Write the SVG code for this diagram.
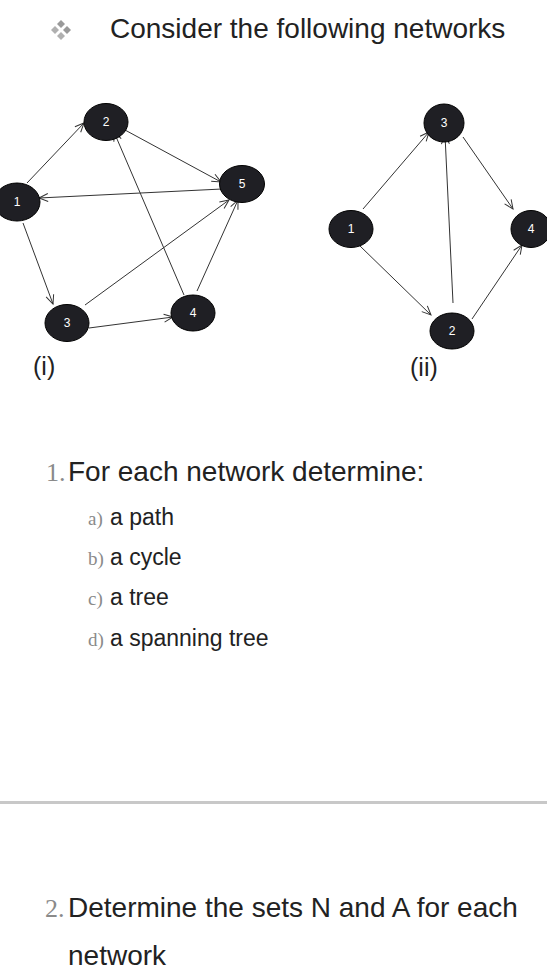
<svg xmlns="http://www.w3.org/2000/svg" width="547" height="970" viewBox="0 0 547 970">
<defs>
<style>
.node{fill:#1f1f24;stroke:#000;stroke-width:1}
.nl{font-family:"Liberation Sans",Arial,sans-serif;font-size:12px;fill:#fff;text-anchor:middle}
.edge{stroke:#333;stroke-width:1;fill:none;marker-end:url(#arr)}
.txt{font-family:"Liberation Sans",Arial,sans-serif;fill:#222}
.num{font-family:"Liberation Serif","Times New Roman",serif;fill:#8a8a8a}
</style>
<marker id="arr" markerUnits="userSpaceOnUse" markerWidth="12" markerHeight="12" viewBox="0 0 12 12" refX="10" refY="6" orient="auto">
<path d="M1,2 L10,6 L1,10" fill="none" stroke="#333" stroke-width="1"/>
</marker>
</defs>
<rect width="547" height="970" fill="#fff"/>

<g id="title">
<g fill="#9a9a9a">
<path d="M61,20 l4,4 l-4,4 l-4,-4z"/>
<path d="M55,26 l4,4 l-4,4 l-4,-4z" fill="#b0b0b0"/>
<path d="M67,26 l4,4 l-4,4 l-4,-4z"/>
<path d="M61,32 l4,4 l-4,4 l-4,-4z" fill="#b0b0b0"/>
</g>
<text class="txt" x="110" y="38" font-size="28">Consider the following networks</text>
</g>

<g id="connectors">
<line class="edge" x1="27" y1="183" x2="84" y2="123"/>
<line class="edge" x1="125" y1="130" x2="221" y2="182"/>
<line class="edge" x1="222" y1="189" x2="39" y2="198"/>
<line class="edge" x1="23" y1="223" x2="53" y2="304"/>
<line class="edge" x1="85" y1="305" x2="229" y2="200"/>
<line class="edge" x1="89" y1="328" x2="173" y2="317"/>
<line class="edge" x1="184" y1="295" x2="114" y2="132"/>
<line class="edge" x1="197" y1="291" x2="238" y2="200"/>

<line class="edge" x1="363" y1="209" x2="429" y2="132"/>
<line class="edge" x1="463" y1="137" x2="513" y2="209"/>
<line class="edge" x1="359" y1="245" x2="431" y2="315"/>
<line class="edge" x1="453" y1="303" x2="445" y2="135"/>
<line class="edge" x1="472" y1="319" x2="522" y2="245"/>
</g>

<g id="g1-n1"><ellipse class="node" cx="17" cy="202" rx="23" ry="19"/><text class="nl" x="17" y="206">1</text></g>
<g id="g1-n2"><ellipse class="node" cx="106" cy="122" rx="22" ry="18.5"/><text class="nl" x="106" y="126">2</text></g>
<g id="g1-n3"><ellipse class="node" cx="67" cy="323" rx="22" ry="18.5"/><text class="nl" x="67" y="327">3</text></g>
<g id="g1-n4"><ellipse class="node" cx="193" cy="313" rx="22" ry="18"/><text class="nl" x="193" y="317">4</text></g>
<g id="g1-n5"><ellipse class="node" cx="242" cy="184" rx="22.5" ry="18.5"/><text class="nl" x="242" y="188">5</text></g>
<text class="txt" x="33" y="375" font-size="25" fill="#222">(i)</text>

<g id="g2-n1"><ellipse class="node" cx="351" cy="229" rx="22" ry="18.5"/><text class="nl" x="351" y="233">1</text></g>
<g id="g2-n2"><ellipse class="node" cx="452" cy="331" rx="22" ry="18"/><text class="nl" x="452" y="335">2</text></g>
<g id="g2-n3"><ellipse class="node" cx="444" cy="123" rx="20" ry="19"/><text class="nl" x="444" y="127">3</text></g>
<g id="g2-n4"><ellipse class="node" cx="531" cy="229" rx="20" ry="18.5"/><text class="nl" x="531" y="233">4</text></g>
<text class="txt" x="410" y="376" font-size="25">(ii)</text>

<g id="q1">
<text class="num" x="46" y="481" font-size="26">1.</text>
<text class="txt" x="68" y="481" font-size="28">For each network determine:</text>
<text class="num" x="88" y="525" font-size="19">a)</text>
<text class="txt" x="110" y="525" font-size="23">a path</text>
<text class="num" x="88" y="565" font-size="19">b)</text>
<text class="txt" x="110" y="565" font-size="23">a cycle</text>
<text class="num" x="88" y="605" font-size="19">c)</text>
<text class="txt" x="110" y="605" font-size="23">a tree</text>
<text class="num" x="88" y="646" font-size="19">d)</text>
<text class="txt" x="110" y="646" font-size="23">a spanning tree</text>
</g>

<rect x="0" y="801" width="547" height="3" fill="#c8c8c8"/>

<g id="q2">
<text class="num" x="45" y="917" font-size="26">2.</text>
<text class="txt" x="68" y="917" font-size="28">Determine the sets N and A for each</text>
<text class="txt" x="68" y="965" font-size="28">network</text>
</g>
</svg>
